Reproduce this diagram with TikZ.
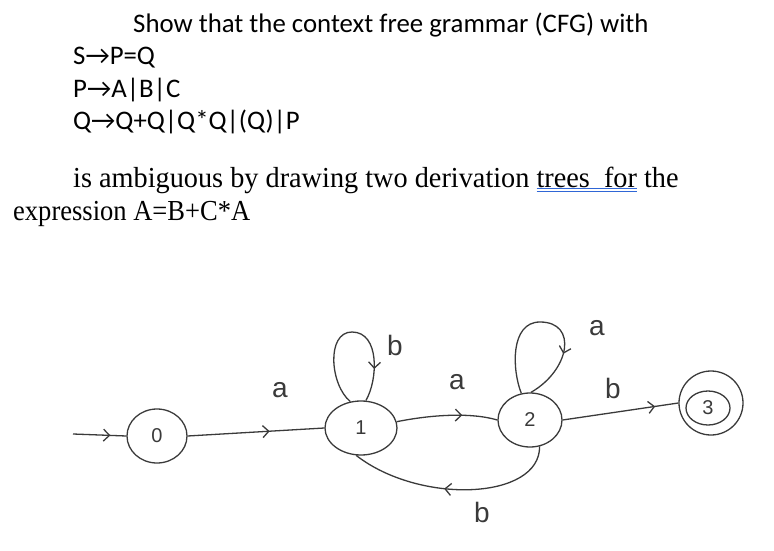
\documentclass[tikz,border=0pt]{standalone}
\usepackage{fontspec}
\usepackage{graphicx}
\usetikzlibrary{shapes.geometric,arrows.meta,decorations.markings}
\setmainfont{Liberation Serif}
\newfontfamily\carlitofont{Carlito}
\newfontfamily\handfont{Liberation Sans}
\definecolor{ulblue}{HTML}{2F66D6}
\definecolor{pen}{HTML}{3A3A3A}
\newcommand\dblul[1]{\setbox0\hbox{#1}\rlap{\textcolor{ulblue}{\rule[-2.4pt]{\wd0}{1pt}}}\rlap{\textcolor{ulblue}{\rule[-4.8pt]{\wd0}{1pt}}}\box0\relax}
\tikzset{
  cfgtext/.style={anchor=base west,inner sep=0pt,font=\carlitofont\fontsize{26.8}{30}\selectfont},
  sertext/.style={anchor=base west,inner sep=0pt,font=\fontsize{29}{34}\selectfont},
  state/.style={draw=pen,line width=1.3pt,ellipse,inner sep=0pt,font=\handfont\fontsize{20}{22}\selectfont,text=pen},
  conn/.style={draw=pen,line width=1.3pt},
  lbl/.style={font=\handfont\fontsize{28}{30}\selectfont,text=pen,inner sep=0pt},
  midarrow/.style={postaction={decorate},decoration={markings,mark=at position #1 with {\arrow[pen,line width=1.3pt]{Straight Barb[length=6pt,width=12pt]}}}}
}
\begin{document}
\begin{tikzpicture}[x=1pt,y=-1pt]
\useasboundingbox (0,0) rectangle (774,551);
% text
\node[cfgtext] (t1) at (133,33) {Show that the context free grammar (CFG) with};
\node[cfgtext] (t2) at (73,65) {S→P=Q};
\node[cfgtext] (t3) at (73,97) {P→A|B|C};
\node[cfgtext] (t4) at (73,129) {Q→Q+Q|Q*Q|(Q)|P};
\node[sertext] (t5) at (73,187) {\scalebox{0.975}[1]{is ambiguous by drawing two derivation \dblul{trees~\ for} the}};
\node[sertext] (t6) at (13,220) {\scalebox{0.915}[1]{expression A=B+C*A}};
% states
\node[state,minimum width=60pt,minimum height=54pt] (s0) at (157,436) {0};
\node[state,minimum width=72pt,minimum height=54pt] (s1) at (361,428) {1};
\node[state,minimum width=64pt,minimum height=54pt] (s2) at (530,420) {2};
\node[state,minimum width=64pt,minimum height=64pt] (s3) at (711,403) {};
\node[state,minimum width=44pt,minimum height=34pt] (s3i) at (708,408) {3};
\coordinate (start) at (73,434);
% connectors
\draw[conn,midarrow=0.7] (start) -- (s0.west);
\draw[conn,midarrow=0.6] (s0.east) -- (s1.west);
\draw[conn,midarrow=0.8] (s1.112) .. controls (330,385) and (326,332) .. (352,332) .. controls (380,332) and (378,380) .. (s1.80);
\draw[conn,midarrow=0.65] (s1.10) .. controls (430,415) and (470,412) .. (s2.west);
\draw[conn,midarrow=0.72] (s2.108) .. controls (512,370) and (510,322) .. (540,322) .. controls (578,322) and (570,370) .. (s2.88);
\draw[conn,midarrow=0.8] (s2.east) -- (s3.west);
\draw[conn,midarrow=0.55] (s2.-70) .. controls (540,500) and (420,505) .. (s1.-100);
% labels
\node[lbl] (la) at (280,390) {a};
\node[lbl] (lb1) at (395,345) {b};
\node[lbl] (la2) at (457,382) {a};
\node[lbl] (la3) at (597,328) {a};
\node[lbl] (lb2) at (613,388) {b};
\node[lbl] (lb3) at (482,512) {b};
\end{tikzpicture}
\end{document}
